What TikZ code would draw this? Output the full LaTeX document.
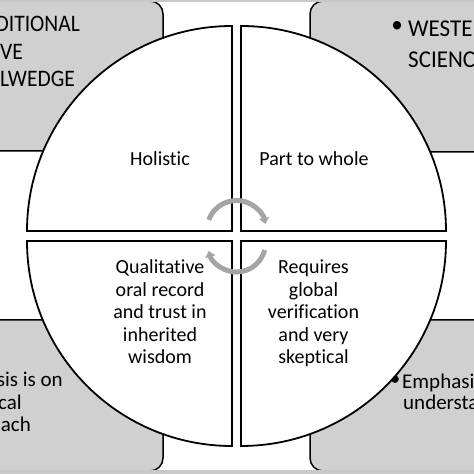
\documentclass[tikz,border=0pt]{standalone}
\usepackage{fontspec}
\setmainfont{Carlito}[Ligatures=NoCommon]
\usetikzlibrary{arrows.meta,calc}
\definecolor{boxgrey}{RGB}{208,208,208}
\definecolor{bandgrey}{RGB}{200,200,200}
\definecolor{arrowgrey}{RGB}{165,165,165}
\tikzset{
  quad/.style={draw=black, line width=1.8pt, fill=white, line join=miter},
  greybox/.style={draw=black, line width=1.5pt, fill=boxgrey, rounded corners=13pt},
  qtext/.style={inner sep=0pt, font=\fontsize{20}{22}\selectfont, anchor=base},
  tltext/.style={inner sep=0pt, font=\fontsize{21.5}{25}\selectfont, yscale=1.1, transform shape},
  trtext/.style={inner sep=0pt, font=\fontsize{23}{27}\selectfont, yscale=1.05, transform shape},
  boxtext/.style={inner sep=0pt, font=\fontsize{21}{23}\selectfont},
  cyclearrow/.style={draw=arrowgrey, line width=5pt, -{Triangle[length=6pt,width=10pt]}}
}
\begin{document}
\begin{tikzpicture}[x=1pt,y=1pt]
\useasboundingbox (0,0) rectangle (474,474);
\clip (0,0) rectangle (474,474);
\fill[white] (0,0) rectangle (474,474);
% grey boxes
\draw[greybox] (-30,323) rectangle (163,473);
\draw[greybox] (310,322) rectangle (510,473);
\draw[greybox] (-30,3) rectangle (163,154);
\draw[greybox] (310,3) rectangle (510,154);
% page bands
\fill[bandgrey] (0,472) rectangle (474,474);
\fill[bandgrey] (0,0) rectangle (474,4);
% box texts
\node[tltext, anchor=base east] (tl1) at (80,442) {TRADITIONAL};
\node[tltext, anchor=base east] (tl2) at (23,414) {NATIVE};
\node[tltext, anchor=base east] (tl3) at (75,387) {KNOWLWEDGE};
\node[trtext, anchor=center] (trb) at (397,447) {•};
\node[trtext, anchor=base west] (tr1) at (408,437) {WESTERN};
\node[trtext, anchor=base west] (tr2) at (408,406) {SCIENCE};
\node[boxtext, anchor=base east] (bl1) at (63,87) {Emphasis is on};
\node[boxtext, anchor=base east] (bl2) at (22,64) {practical};
\node[boxtext, anchor=base east] (bl3) at (31,42) {approach};
\node[boxtext, anchor=center] (brb) at (395,93) {•};
\node[boxtext, anchor=base west] (br1) at (402,85) {Emphasis is on};
\node[boxtext, anchor=base west] (br2) at (403,64) {understanding};
% quadrants
\draw[quad] (232,243) -- (27,243) arc[start angle=180, end angle=90, radius=205] -- cycle;
\draw[quad] (241,243) -- (241,448) arc[start angle=90, end angle=0, radius=205] -- cycle;
\draw[quad] (232,233) -- (232,28) arc[start angle=270, end angle=180, radius=205] -- cycle;
\draw[quad] (241,233) -- (446,233) arc[start angle=0, end angle=-90, radius=205] -- cycle;
% quadrant texts
\node[qtext] (q1) at (160,308) {Holistic};
\node[qtext] (q2) at (314,308) {Part to whole};
\node[qtext] (q3a) at (160,200) {Qualitative};
\node[qtext] (q3b) at (160,177.5) {oral record};
\node[qtext] (q3c) at (160,155) {and trust in};
\node[qtext] (q3d) at (160,132.5) {inherited};
\node[qtext] (q3e) at (160,110) {wisdom};
\node[qtext] (q4a) at (313.5,200) {Requires};
\node[qtext] (q4b) at (313.5,177.5) {global};
\node[qtext] (q4c) at (313.5,155) {verification};
\node[qtext] (q4d) at (313.5,132.5) {and very};
\node[qtext] (q4e) at (313.5,110) {skeptical};
% cycle arrows
\coordinate (cu) at (236.5,244);
\coordinate (cl) at (236.5,231);
\draw[cyclearrow] ($(cu)+(160:29.5)$) arc[start angle=160, end angle=12, radius=29.5];
\draw[cyclearrow] ($(cl)+(-14:29)$) arc[start angle=-14, end angle=-164, radius=29];
\end{tikzpicture}
\end{document}
